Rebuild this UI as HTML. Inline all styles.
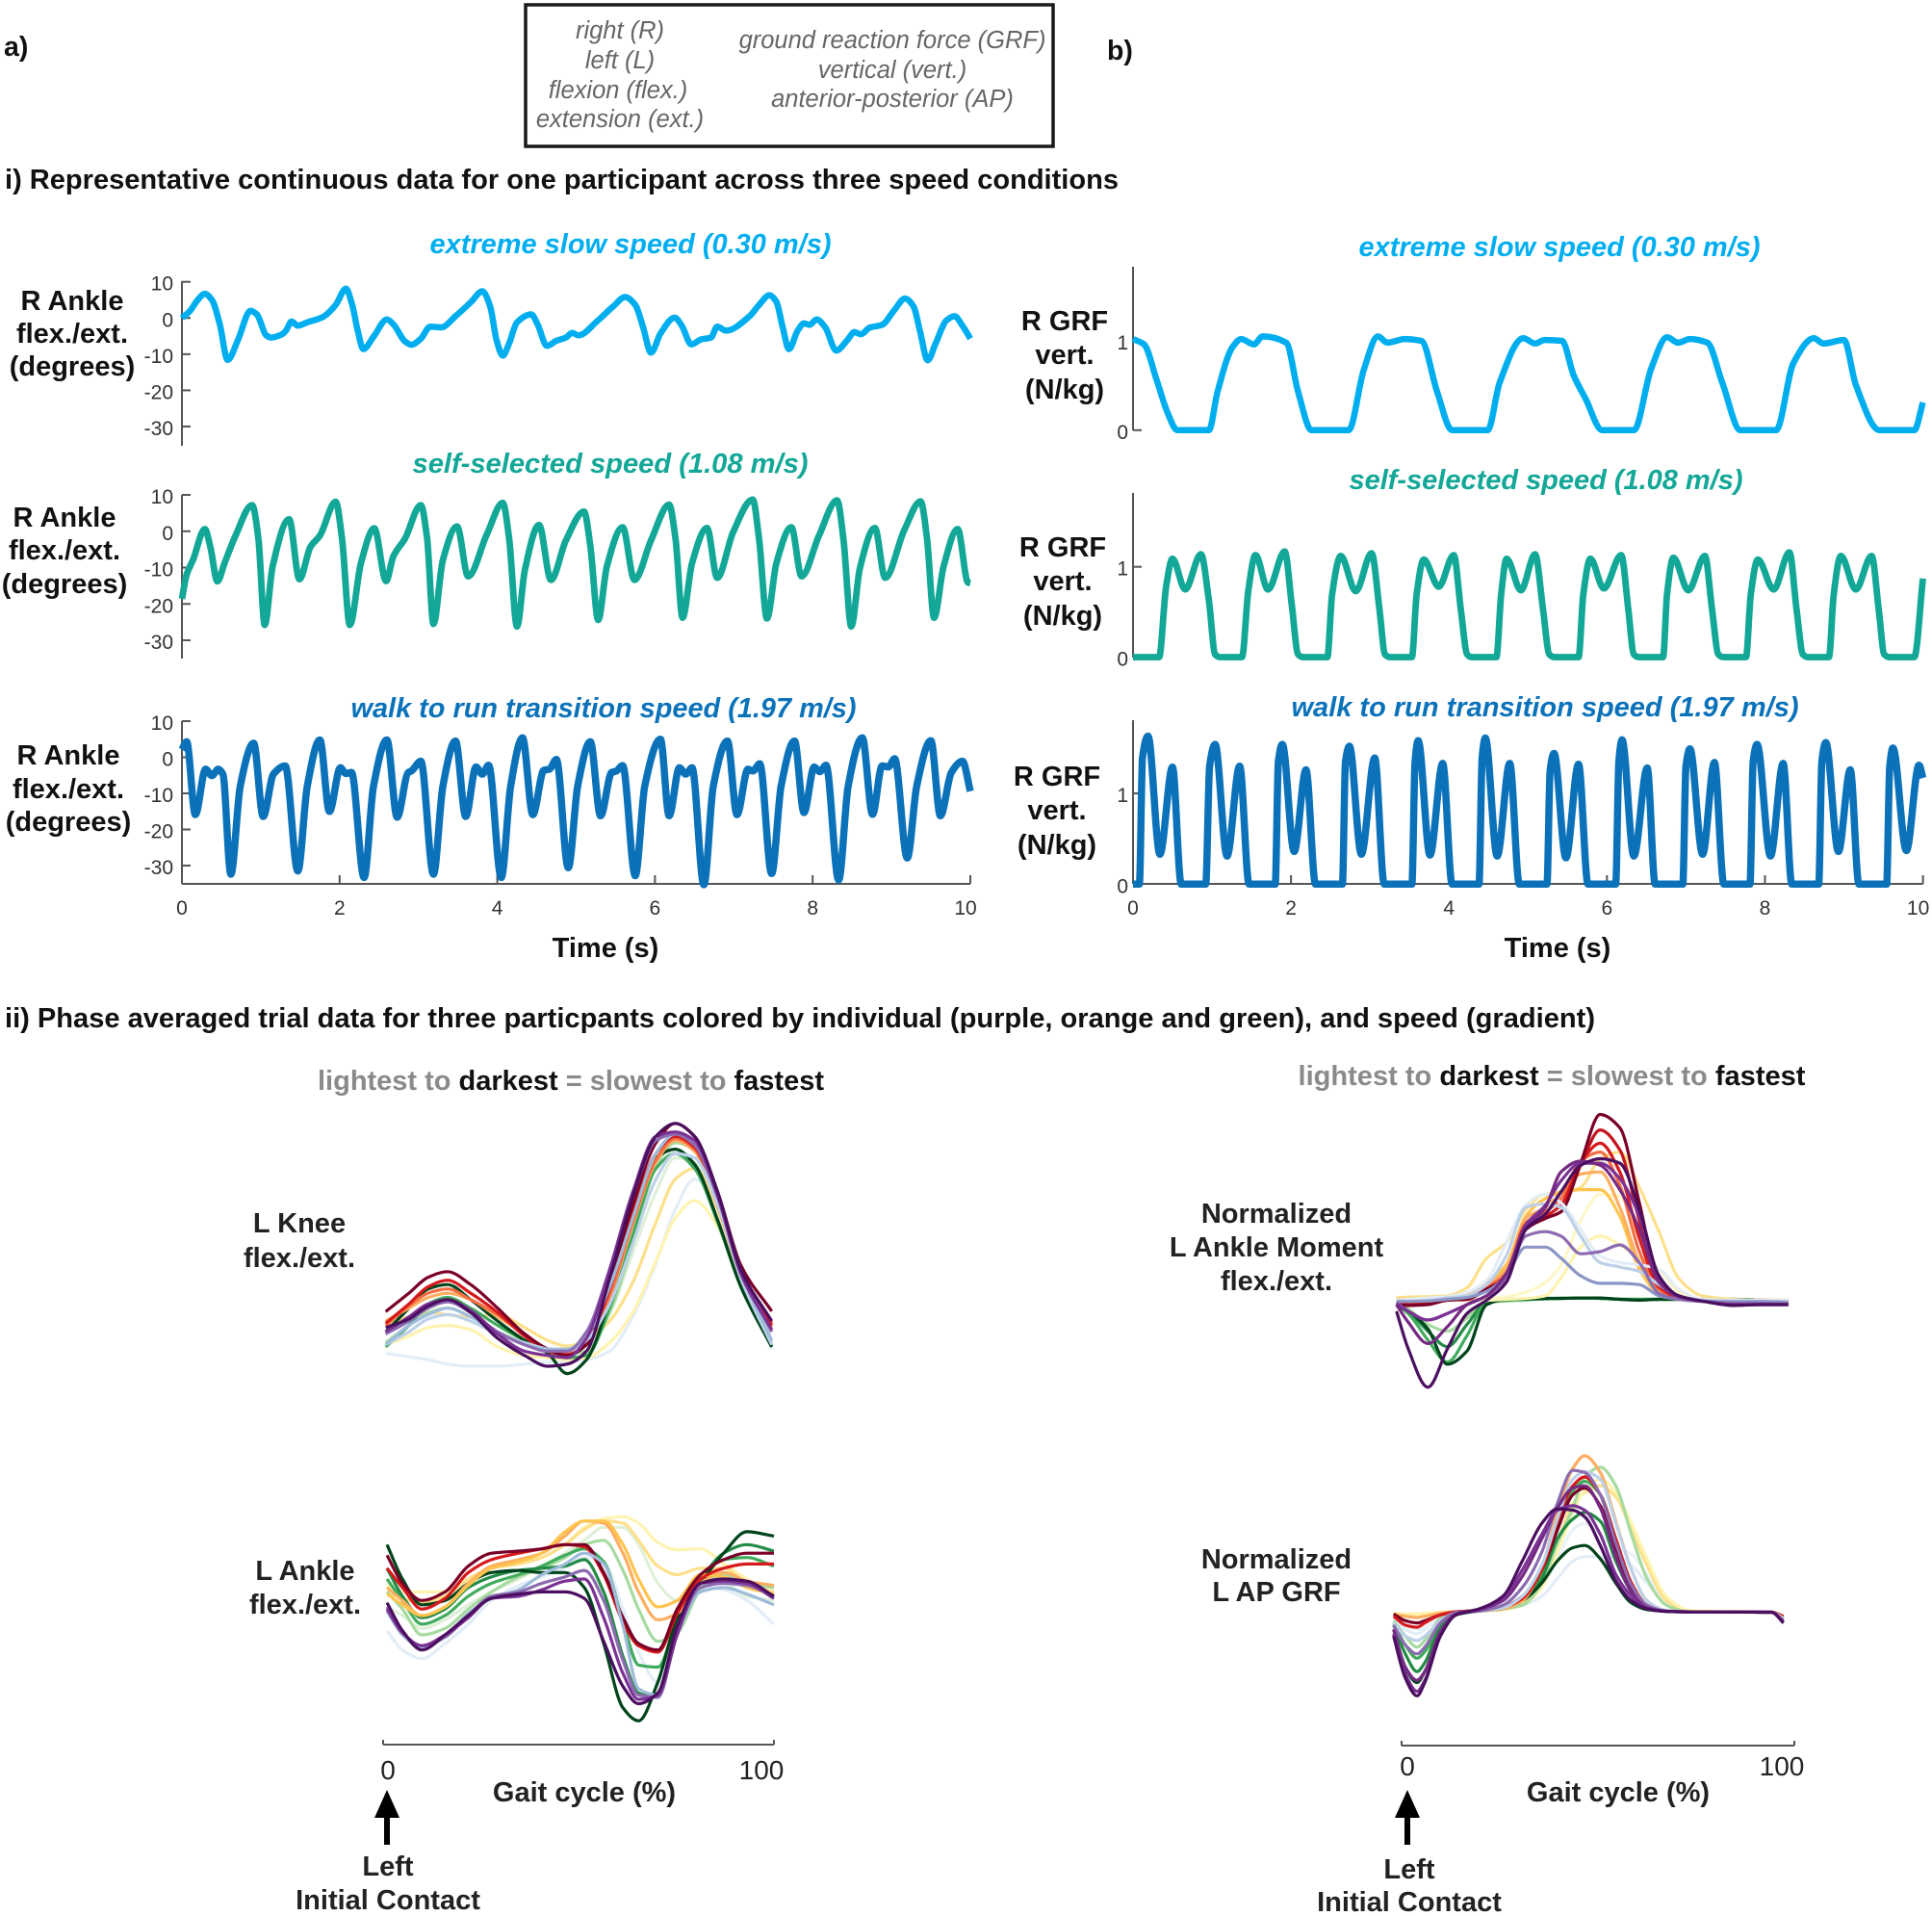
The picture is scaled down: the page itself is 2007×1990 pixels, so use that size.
<!DOCTYPE html>
<html lang="en">
<head>
<meta charset="utf-8">
<title>Gait data figure</title>
<style>
html,body{margin:0;padding:0;background:#fff;}
svg{display:block;font-family:"Liberation Sans",Arial,sans-serif;}
.lab{font-weight:bold;font-size:29px;fill:#111;text-anchor:middle;}
.lab2{font-weight:bold;font-size:29px;fill:#222;text-anchor:middle;}
.ttl{font-weight:bold;font-style:italic;font-size:29px;text-anchor:middle;}
.leg{font-style:italic;font-size:25.5px;fill:#666;text-anchor:middle;}
.head{font-weight:bold;font-size:28.5px;fill:#111;}
.tick{font-size:21px;fill:#333;}
.g{fill:#8a8a8a;}.k{fill:#111;}
</style>
</head>
<body>
<svg id="chart" xmlns="http://www.w3.org/2000/svg" width="2007" height="1990" viewBox="0 0 2007 1990">
<rect width="2007" height="1990" fill="#fff"/>
<text class="head" x="4" y="58">a)</text>
<text class="head" x="1150" y="62">b)</text>
<g>
<rect x="546" y="5" width="548" height="147" fill="#fff" stroke="#1a1a1a" stroke-width="3.5"/>
<text class="leg" x="644" y="40">right (R)</text>
<text class="leg" x="644" y="71">left (L)</text>
<text class="leg" x="642" y="102">flexion (flex.)</text>
<text class="leg" x="644" y="132">extension (ext.)</text>
<text class="leg" x="927" y="50">ground reaction force (GRF)</text>
<text class="leg" x="927" y="81">vertical (vert.)</text>
<text class="leg" x="927" y="111">anterior-posterior (AP)</text>
</g>
<text class="head" x="5" y="196" textLength="1157" lengthAdjust="spacingAndGlyphs">i) Representative continuous data for one participant across three speed conditions</text>
<text class="head" x="5" y="1067" textLength="1652" lengthAdjust="spacingAndGlyphs">ii) Phase averaged trial data for three particpants colored by individual (purple, orange and green), and speed (gradient)</text>

<text class="ttl" x="655" y="263" fill="#00aeef" textLength="417" lengthAdjust="spacingAndGlyphs">extreme slow speed (0.30 m/s)</text>
<text class="ttl" x="634" y="491" fill="#12a797" textLength="411" lengthAdjust="spacingAndGlyphs">self-selected speed (1.08 m/s)</text>
<text class="ttl" x="627" y="745" fill="#0b72ba" textLength="525" lengthAdjust="spacingAndGlyphs">walk to run transition speed (1.97 m/s)</text>
<text class="ttl" x="1620" y="266" fill="#00aeef" textLength="417" lengthAdjust="spacingAndGlyphs">extreme slow speed (0.30 m/s)</text>
<text class="ttl" x="1606" y="508" fill="#12a797" textLength="409" lengthAdjust="spacingAndGlyphs">self-selected speed (1.08 m/s)</text>
<text class="ttl" x="1605" y="744" fill="#0b72ba" textLength="527" lengthAdjust="spacingAndGlyphs">walk to run transition speed (1.97 m/s)</text>

<g><text class="lab" x="75" y="322">R Ankle</text><text class="lab" x="75" y="356">flex./ext.</text><text class="lab" x="75" y="390">(degrees)</text></g>
<g><text class="lab" x="67" y="547">R Ankle</text><text class="lab" x="67" y="581">flex./ext.</text><text class="lab" x="67" y="616">(degrees)</text></g>
<g><text class="lab" x="71" y="794">R Ankle</text><text class="lab" x="71" y="829">flex./ext.</text><text class="lab" x="71" y="863">(degrees)</text></g>
<g><text class="lab" x="1106" y="343">R GRF</text><text class="lab" x="1106" y="378">vert.</text><text class="lab" x="1106" y="414">(N/kg)</text></g>
<g><text class="lab" x="1104" y="578">R GRF</text><text class="lab" x="1104" y="613">vert.</text><text class="lab" x="1104" y="649">(N/kg)</text></g>
<g><text class="lab" x="1098" y="816">R GRF</text><text class="lab" x="1098" y="851">vert.</text><text class="lab" x="1098" y="887">(N/kg)</text></g>
<text class="lab" x="629" y="994">Time (s)</text>
<text class="lab" x="1618" y="994">Time (s)</text>

<text class="lab" x="593" y="1132" textLength="526" lengthAdjust="spacingAndGlyphs"><tspan class="g">lightest to </tspan><tspan class="k">darkest</tspan><tspan class="g"> = slowest to </tspan><tspan class="k">fastest</tspan></text>
<text class="lab" x="1612" y="1127" textLength="527" lengthAdjust="spacingAndGlyphs"><tspan class="g">lightest to </tspan><tspan class="k">darkest</tspan><tspan class="g"> = slowest to </tspan><tspan class="k">fastest</tspan></text>

<g><text class="lab2" x="311" y="1280">L Knee</text><text class="lab2" x="311" y="1316">flex./ext.</text></g>
<g><text class="lab2" x="317" y="1641">L Ankle</text><text class="lab2" x="317" y="1676">flex./ext.</text></g>
<g><text class="lab2" x="1326" y="1270">Normalized</text><text class="lab2" x="1326" y="1305">L Ankle Moment</text><text class="lab2" x="1326" y="1340">flex./ext.</text></g>
<g><text class="lab2" x="1326" y="1629">Normalized</text><text class="lab2" x="1326" y="1663">L AP GRF</text></g>

<text x="403" y="1848" font-size="28" fill="#222" text-anchor="middle">0</text>
<text x="791" y="1848" font-size="28" fill="#222" text-anchor="middle">100</text>
<text x="1462" y="1844" font-size="28" fill="#222" text-anchor="middle">0</text>
<text x="1851" y="1844" font-size="28" fill="#222" text-anchor="middle">100</text>
<text class="lab2" x="607" y="1871">Gait cycle (%)</text>
<text class="lab2" x="1681" y="1871">Gait cycle (%)</text>
<path d="M402 1859L415 1888H405V1916H399V1888H389Z" fill="#000"/>
<path d="M1462 1859L1475 1888H1465V1916H1459V1888H1449Z" fill="#000"/>
<g><text class="lab2" x="403" y="1948">Left</text><text class="lab2" x="403" y="1983">Initial Contact</text></g>
<g><text class="lab2" x="1464" y="1951">Left</text><text class="lab2" x="1464" y="1985">Initial Contact</text></g>
<g id="marks"></g>
</svg>
<script>
/* ---- continuous traces: seconds and degrees / N/kg ---- */
const ankleTicks=[10,0,-10,-20,-30];
const grfTicks=[0,1];
const timeTicks=[0,2,4,6,8,10];

const slowAnkleTime=[0,.1,.2,.29,.38,.48,.58,.71,.87,.95,1.07,1.13,1.27,1.32,1.39,1.47,1.59,1.79,1.95,2.08,2.16,2.23,2.3,2.43,2.6,2.68,2.83,2.91,3.03,3.15,3.29,3.47,3.67,3.81,3.91,3.99,4.07,4.15,4.25,4.43,4.51,4.63,4.75,4.87,4.95,5.03,5.27,5.47,5.62,5.75,5.85,5.95,6.07,6.25,6.34,6.46,6.59,6.71,6.79,6.9,7.2,7.32,7.45,7.54,7.62,7.7,7.81,7.89,7.96,8.05,8.16,8.3,8.44,8.53,8.61,8.72,8.88,9.04,9.17,9.28,9.36,9.46,9.56,9.7,9.8,9.9,10];
const slowAnkleDeg=[0,1.9,5,6.7,5,-1.7,-11.6,-6.1,2,1,-4.8,-5.4,-4.5,-3.5,-1,-2.1,-1.2,.3,3.6,8.1,3.6,-3.5,-8.6,-5.2,-.4,-1.7,-6.5,-7.4,-5.7,-2.4,-2.6,.5,4.5,7.4,3.2,-6.1,-10.4,-7,-1.2,1,-1.7,-7.7,-6.3,-5.4,-4.1,-4.8,-.8,3.2,5.8,3.6,-2.6,-9.6,-4.3,.1,-2.1,-7.3,-5.9,-5.4,-2.4,-3.5,.5,3.6,6.3,4.5,-2.6,-8.6,-3.5,-1.5,-1.9,-.4,-2.6,-9,-6.1,-3.9,-4.5,-2.7,-1.9,2.3,5.4,3.2,-3.5,-11.7,-7,-.6,.5,-2.1,-5.7];

const selfAnkleTime=[0,.06,.14,.29,.36,.45,.54,.68,.89,.97,1.05,1.15,1.36,1.49,1.63,1.75,1.95,2.03,2.13,2.27,2.44,2.59,2.68,2.83,3.03,3.11,3.19,3.31,3.49,3.63,3.87,4.07,4.15,4.25,4.35,4.53,4.68,4.87,5.1,5.18,5.28,5.39,5.59,5.74,5.95,6.18,6.26,6.35,6.47,6.66,6.79,6.99,7.24,7.32,7.42,7.54,7.73,7.86,8.08,8.31,8.39,8.49,8.6,8.79,8.92,9.16,9.37,9.45,9.54,9.66,9.84,9.97,10];
const selfAnkleDeg=[-18.6,-11.9,-7.9,.6,-4.3,-13.8,-8.8,-1.2,7.2,-2,-25.8,-9.7,3.3,-13.2,-4.3,-1.2,8.1,-2,-25.8,-8.8,.8,-13.7,-7,-2,7.2,-2,-25.5,-7.9,1.3,-12.4,-.7,7.8,-2,-26.2,-10.6,1.7,-13.4,-2.5,5.4,-4,-24.4,-9.7,1.1,-13.4,-2.5,7.3,-2,-23.8,-8.8,.9,-12.8,-.3,8.7,-2,-24,-8.8,1.1,-12.4,-1.2,8.5,-2,-26.2,-10.1,.9,-12.8,.2,8.2,-2,-23.8,-9.7,.6,-14.1,-14.3];

const walkAnkleTime=[0,.06,.17,.3,.38,.46,.52,.62,.74,.91,1.03,1.16,1.31,1.47,1.59,1.75,1.87,2.01,2.08,2.15,2.31,2.43,2.6,2.73,2.87,2.91,3.03,3.19,3.31,3.47,3.6,3.73,3.81,3.89,4.05,4.17,4.32,4.45,4.59,4.66,4.75,4.9,5.02,5.18,5.31,5.45,5.51,5.59,5.75,5.87,6.07,6.18,6.31,6.39,6.47,6.62,6.74,6.92,7.04,7.18,7.24,7.33,7.48,7.6,7.77,7.89,8.02,8.09,8.17,8.33,8.45,8.63,8.76,8.88,8.96,9.04,9.2,9.32,9.5,9.62,9.76,9.9,10];
const walkAnkleDeg=[2.1,4.3,-15.9,-3.3,-5.1,-3.3,-4.7,-32.4,-8,3.9,-16.4,-4.7,-2.4,-31.5,-8,4.8,-15,-2.9,-4.5,-4.2,-33.3,-8,4.8,-16.6,-4.2,-3.8,-1.1,-32.4,-8,4.5,-16.4,-2.7,-4.7,-2.2,-33.3,-8,5.4,-15.9,-3.6,-3.3,-.6,-30.6,-8,4.3,-16.2,-4.2,-3.8,-2.3,-32.8,-8,5,-16.2,-2.9,-4.7,-2.9,-35.3,-8,4.5,-15.9,-3.3,-3.8,-1.8,-32.2,-8,4.5,-15.3,-2.7,-4,-2.2,-34,-8,5.4,-15.8,-2.4,-2.7,-.4,-27.9,-8,4.6,-16.2,-4.2,-1.1,-9.4];

const slowGrfTime=[0,.14,.3,.44,.56,.96,1.07,1.26,1.37,1.53,1.64,1.94,2.09,2.26,2.73,2.92,3.1,3.22,3.44,3.65,3.85,4.04,4.49,4.64,4.94,5.09,5.21,5.43,5.58,5.73,5.94,6.34,6.56,6.76,6.9,7.05,7.27,7.46,7.69,8.14,8.36,8.62,8.74,9,9.15,9.45,9.89,10];
const slowGrfForce=[1.02,.96,.56,.19,0,0,.43,.93,1.02,.96,1.05,.98,.43,0,0,.67,1.05,.98,1.02,1,.43,0,0,.53,1.03,.97,1.01,1,.61,.35,0,0,.69,1.04,.98,1.02,.98,.53,0,0,.75,1.03,.97,1.01,.51,0,0,.31];

const selfGrfTime=[0,.33,.42,.5,.66,.86,.96,1.04,1.1,1.38,1.46,1.55,1.71,1.92,2.01,2.09,2.15,2.46,2.52,2.63,2.82,3.02,3.12,3.19,3.25,3.53,3.59,3.68,3.87,4.06,4.15,4.23,4.28,4.6,4.66,4.73,4.91,5.09,5.19,5.27,5.33,5.64,5.7,5.79,5.96,6.18,6.27,6.34,6.4,6.71,6.76,6.84,7.03,7.24,7.33,7.41,7.47,7.76,7.82,7.91,8.11,8.31,8.4,8.48,8.54,8.81,8.87,8.96,9.15,9.35,9.44,9.51,9.57,9.89,10];
const selfGrfForce=[0,0,.79,1.09,.75,1.14,.63,.03,0,0,.74,1.13,.75,1.17,.58,.03,0,0,.69,1.12,.73,1.15,.53,.03,0,0,.69,1.08,.78,1.13,.53,.03,0,0,.69,1.09,.74,1.14,.53,.03,0,0,.69,1.09,.76,1.13,.53,.03,0,0,.69,1.1,.74,1.12,.53,.03,0,0,.69,1.08,.75,1.16,.53,.03,0,0,.69,1.12,.75,1.12,.53,.03,0,0,.87];

const walkGrfTime=[0,.08,.12,.19,.34,.5,.61,.92,.97,1.04,1.19,1.35,1.47,1.8,1.84,1.89,2.04,2.19,2.31,2.65,2.69,2.74,2.89,3.06,3.18,3.53,3.57,3.61,3.76,3.92,4.04,4.38,4.42,4.46,4.61,4.77,4.89,5.24,5.28,5.33,5.48,5.64,5.76,6.11,6.15,6.19,6.34,6.51,6.61,6.96,7,7.05,7.21,7.36,7.48,7.81,7.85,7.9,8.07,8.23,8.34,8.68,8.72,8.77,8.93,9.08,9.19,9.54,9.58,9.62,9.79,9.95,10];
const walkGrfForce=[0,0,1.39,1.63,.33,1.29,0,0,1.3,1.54,.31,1.3,0,0,1.35,1.54,.36,1.26,0,0,1.35,1.52,.33,1.39,0,0,1.35,1.58,.32,1.33,0,0,1.4,1.61,.31,1.33,0,0,1.25,1.44,.29,1.32,0,0,1.35,1.59,.31,1.28,0,0,1.3,1.49,.33,1.34,0,0,1.35,1.54,.31,1.33,0,0,1.35,1.56,.36,1.26,0,0,1.3,1.5,.37,1.31,1.17];

/* ---- phase-averaged bundles: gait-cycle % and normalized amplitude ---- */
const kneeGaitPercent=[0,6,11,16,22,29,36,42,47,52,58,64,70,75,80,86,92,100];
const kneeSeriesNames=['paleBlue','paleGreen','yellowPale','yellow','lightGreen','green','darkGreen','orange','orangeRed','red','maroon','skyBlue','blue','lightPurple','purple','darkPurple'];
const kneeValues=[
[45,37,30,20,15,15,20,25,25,30,50,130,255,380,450,390,220,55],
[65,95,125,135,120,90,70,55,50,75,140,280,420,500,490,390,220,65],
[65,85,105,110,100,60,40,35,30,35,70,140,260,360,400,340,200,70],
[110,130,140,135,130,135,105,75,62,75,120,210,350,450,475,380,220,95],
[70,110,140,150,130,95,70,55,45,50,140,300,480,535,520,400,220,70],
[60,110,160,175,150,110,75,50,35,40,150,320,475,510,475,350,200,60],
[95,150,195,205,170,120,75,45,-2,30,170,350,500,520,485,355,200,60],
[120,150,175,185,170,130,90,55,45,70,175,345,490,540,515,385,225,105],
[110,155,185,195,170,135,90,55,45,65,180,350,495,545,520,395,235,115],
[115,160,200,215,185,140,85,50,42,70,195,370,510,550,525,400,240,110],
[142,185,222,235,205,150,90,55,40,65,210,390,535,580,550,420,250,143],
[65,95,125,135,120,90,70,55,50,75,160,300,450,510,500,390,220,65],
[65,110,135,150,130,95,65,55,55,85,200,360,510,555,530,405,235,75],
[90,120,150,165,140,95,65,50,50,95,240,410,540,555,530,410,240,95],
[95,130,160,170,145,90,50,40,35,80,240,420,550,560,540,410,230,100],
[105,125,155,170,140,80,40,15,20,50,220,410,550,580,550,420,240,120]];

const ankleGaitPercent=[0,4,9,15,21,27,34,40,46,51,56,61,65,70,75,81,87,93,100];
const ankleSeriesNames=['paleBlue','paleGreen','yellowPale','yellow','lightGreen','green','midGreen','darkGreen','orange','lightOrange','red','maroon','blue','lightPurple','purple','darkPurple'];
const ankleValues=[
[20,-25,-45,-10,35,90,125,145,165,190,180,70,-30,-100,50,120,115,90,35],
[75,55,25,45,80,110,140,170,200,230,260,260,220,130,90,125,130,100,90],
[125,110,110,110,140,165,175,190,220,260,280,285,270,225,208,210,175,140,100],
[110,95,85,100,140,165,175,190,220,255,275,270,230,170,150,165,165,130,110],
[110,70,10,25,70,110,145,165,190,220,230,160,70,-5,15,115,150,130,120],
[140,90,35,55,100,130,150,170,195,210,180,40,-60,-65,45,140,185,190,170],
[165,100,50,70,120,145,160,165,170,185,110,-40,-125,-135,20,135,200,220,205],
[220,140,80,90,130,155,160,155,155,120,-10,-160,-190,-100,50,130,200,250,240],
[120,90,55,75,130,170,185,200,240,275,270,200,110,45,60,130,155,135,125],
[105,80,55,75,125,165,180,200,250,275,275,220,140,75,90,150,145,120,105],
[165,120,70,95,155,185,200,210,220,215,150,40,-15,-30,60,140,165,175,175],
[195,130,90,110,170,200,205,210,220,220,155,50,-10,-25,70,150,185,200,200],
[65,10,-20,5,60,95,115,150,175,200,175,30,-115,-130,10,110,120,105,80],
[75,15,-15,5,55,100,110,130,145,160,90,-50,-130,-135,15,120,130,125,100],
[70,15,-15,10,50,95,100,115,135,140,50,-80,-140,-130,10,130,135,130,95],
[85,20,-25,10,55,95,105,110,110,95,-5,-110,-150,-125,30,130,140,135,100]];

const momentGaitPercent=[0,3,8,13,18,23,28,33,38,42,47,52,57,62,67,72,78,86,93,100];
const momentSeriesNames=['lightGreen','midGreen','green','darkGreen','yellowPale','paleYellow2','yellow','lightOrange','orange','orangeRed','red','crimson','maroon','paleBlue','skyBlue','periwinkle','lightPurple','purple','midPurple','darkPurple'];
const momentValues=[
[-5,-20,-55,-70,-40,-5,-2,0,3,4,5,4,2,2,2,2,2,2,0,-5],
[-8,-25,-70,-105,-55,-5,0,2,3,4,5,4,2,2,2,2,2,2,0,-8],
[-10,-30,-90,-140,-80,-5,0,2,3,4,5,4,2,2,2,2,2,2,0,-8],
[-12,-25,-65,-145,-115,-10,2,3,4,4,5,5,2,0,2,2,2,2,0,-8],
[0,0,0,0,0,0,2,4,10,50,120,145,125,95,70,20,2,0,0,0],
[2,2,2,2,2,3,8,18,40,80,180,240,235,140,40,10,2,0,0,0],
[5,7,8,10,28,95,130,205,240,242,255,320,335,255,155,50,10,2,0,0],
[2,2,5,8,15,40,80,190,230,245,250,250,190,70,15,2,0,0,0,0],
[-2,-5,-2,4,10,35,70,185,210,245,285,290,210,85,20,2,0,-2,0,-2],
[-5,-8,-5,2,6,30,60,175,200,230,315,335,260,110,25,5,0,-2,0,-3],
[-8,-10,-7,0,5,25,55,170,190,215,310,355,290,140,30,7,0,-2,0,-3],
[-10,-10,-8,0,2,25,50,160,185,200,305,385,340,180,35,8,-2,-3,-2,-5],
[-10,-12,-10,0,2,25,50,160,185,200,310,420,390,220,40,10,-2,-5,-2,-5],
[0,2,5,8,18,45,130,215,240,220,160,100,85,80,70,25,2,0,0,0],
[-2,-2,0,5,10,35,100,210,218,210,145,85,75,65,35,8,0,-2,-2,-3],
[-3,-3,-2,2,6,20,55,120,120,95,55,38,38,35,10,2,-2,-3,-3,-5],
[-5,-25,-45,-30,-10,10,50,145,155,145,105,110,125,85,15,2,-3,-7,-7,-8],
[-8,-25,-45,-30,-10,10,60,170,215,270,310,310,275,190,50,10,-2,-10,-10,-10],
[-10,-50,-98,-60,-10,10,60,160,210,290,315,305,250,160,40,8,-2,-10,-10,-10],
[-25,-110,-197,-110,-30,0,40,160,195,245,305,320,310,205,55,10,-2,-12,-10,-10]];

const apGaitPercent=[0,3,6,8,12,16,22,28,33,38,42,46,49,53,57,61,65,70,76,97,100];
const apSeriesNames=['paleBlue','paleBlue2','yellow','yellowPale','lightGreen','green','midGreen','darkGreen','orange','maroon','red','skyBlue','lightPurple','midPurple','purple','darkPurple'];
const apValues=[
[-20,-40,-50,-40,-10,-1,2,5,15,35,75,115,125,125,125,105,65,20,2,-1,-10],
[-15,-30,-40,-35,-10,-1,1,5,20,55,120,185,200,175,145,130,85,25,2,-1,-10],
[-3,-5,-5,-5,-1,0,2,5,17,65,155,245,270,285,260,185,105,25,2,-1,-10],
[-3,-5,-5,-3,-1,0,2,5,15,55,135,225,275,300,270,200,120,35,3,-1,-10],
[-20,-55,-80,-65,-15,-1,2,7,15,65,155,235,305,327,285,175,75,15,0,-1,-15],
[-25,-75,-105,-90,-30,-3,2,7,25,85,185,275,295,265,165,65,15,2,0,-1,-15],
[-30,-95,-135,-115,-35,-5,2,7,25,75,165,210,225,205,115,45,10,2,0,-1,-15],
[-40,-125,-160,-135,-50,-7,2,7,25,65,115,145,150,120,65,20,5,1,0,-1,-15],
[-5,-10,-13,-10,-3,0,2,7,25,100,225,325,353,315,205,95,25,3,0,-1,-10],
[-5,-20,-25,-20,-7,0,3,10,35,95,185,265,280,240,145,55,13,2,0,-1,-15],
[-10,-30,-35,-25,-7,0,3,10,30,95,205,285,305,265,165,65,15,2,0,-1,-10],
[-25,-55,-65,-55,-20,-2,2,9,35,105,210,300,317,300,200,95,25,3,0,-1,-15],
[-30,-75,-95,-80,-25,-2,2,15,55,135,245,320,315,265,155,60,15,2,0,-1,-20],
[-40,-125,-155,-135,-45,-5,5,25,80,165,235,280,285,235,125,45,10,1,0,-1,-23],
[-50,-140,-180,-155,-55,-7,5,30,95,175,230,240,230,175,85,35,7,1,0,-1,-25],
[-55,-150,-190,-160,-55,-7,7,35,115,200,233,230,215,150,70,25,7,1,0,-1,-25]];

/* ---- styling (separate from data) ---- */
const shade={paleBlue:'#e3edf7',paleBlue2:'#eaf2f8',paleGreen:'#dff0d8',yellowPale:'#fff3b0',paleYellow2:'#fff7c8',yellow:'#fee08b',
lightGreen:'#a6dba0',green:'#41ab5d',midGreen:'#238b45',darkGreen:'#00441b',lightOrange:'#fec44f',orange:'#fdae61',orangeRed:'#f46d43',
red:'#d7191c',crimson:'#c4141c',maroon:'#7a0026',skyBlue:'#bcd0e8',blue:'#9ebcda',periwinkle:'#8c96c6',lightPurple:'#8c6bb1',purple:'#7b3294',midPurple:'#762a83',darkPurple:'#4a0f5f'};
const SLOW='#00aeef',SELF='#12a797',WALK='#0b72ba',AXIS='#555';

const NS='http://www.w3.org/2000/svg';
const marks=document.getElementById('marks');
function linear(d0,d1,r0,r1){return v=>r0+(v-d0)*(r1-r0)/(d1-d0);}
function monotonePath(xs,ys){
  const n=xs.length,dx=[],m=[],t=[];
  for(let i=0;i<n-1;i++){dx[i]=xs[i+1]-xs[i];m[i]=(ys[i+1]-ys[i])/dx[i];}
  t[0]=m[0];t[n-1]=m[n-2];
  for(let i=1;i<n-1;i++){
    if(m[i-1]*m[i]<=0){t[i]=0;}
    else{const w1=2*dx[i]+dx[i-1],w2=dx[i]+2*dx[i-1];t[i]=(w1+w2)/(w1/m[i-1]+w2/m[i]);}
  }
  let d='M'+xs[0].toFixed(1)+' '+ys[0].toFixed(1);
  for(let i=0;i<n-1;i++){
    const h=dx[i]/3;
    d+='C'+(xs[i]+h).toFixed(1)+' '+(ys[i]+t[i]*h).toFixed(1)+' '+(xs[i+1]-h).toFixed(1)+' '+(ys[i+1]-t[i+1]*h).toFixed(1)+' '+xs[i+1].toFixed(1)+' '+ys[i+1].toFixed(1);
  }
  return d;
}
function drawSeries(name,xArr,yArr,xf,yf,color,width){
  const p=document.createElementNS(NS,'path');
  
  
  p.setAttribute('d',monotonePath(xArr.map(xf),yArr.map(yf)));
  p.setAttribute('fill','none');
  p.setAttribute('stroke',color);
  p.setAttribute('stroke-width',width);
  p.setAttribute('stroke-linejoin','round');
  marks.appendChild(p);
}
function drawLine(name,x1,y1,x2,y2,w){
  const l=document.createElementNS(NS,'line');
  
  
  l.setAttribute('x1',x1);l.setAttribute('y1',y1);l.setAttribute('x2',x2);l.setAttribute('y2',y2);
  l.setAttribute('stroke',AXIS);l.setAttribute('stroke-width',w||2);
  marks.appendChild(l);
}
function drawLabel(name,x,y,txt,anchor){
  const t=document.createElementNS(NS,'text');
  
  
  t.setAttribute('class','tick');
  t.setAttribute('x',x);t.setAttribute('y',y);t.setAttribute('text-anchor',anchor);
  t.textContent=txt;
  marks.appendChild(t);
}
function yAxis(prefix,ticks,xf0,top,bottom,yf,labelX){
  drawLine(prefix+'-y-axis',xf0,top,xf0,bottom);
  ticks.forEach(v=>{
    drawLine(prefix+'-y-tick',xf0,yf(v),xf0+9,yf(v));
    drawLabel(prefix+'-y-tick-label',labelX,yf(v)+9,String(v),'end');
  });
}
function xAxis(prefix,ticks,xf,y){
  drawLine(prefix+'-x-axis',xf(0),y,xf(10),y);
  ticks.forEach((v,i)=>{
    drawLine(prefix+'-x-tick',xf(v),y-9,xf(v),y);
    drawLabel(prefix+'-x-tick-label',xf(v)-(i===ticks.length-1?5:0),y+32,String(v),'middle');
  });
}

/* left column: ankle */
const xAnkle=linear(0,10,189,1008);
const yAnkleSlow=linear(10,-30,292.7,443);
const yAnkleSelf=linear(10,-30,514,665);
const yAnkleWalk=linear(10,-30,749,899);
yAxis('ankle-slow',ankleTicks,189,292,463,yAnkleSlow,180);
yAxis('ankle-self-selected',ankleTicks,189,514,684,yAnkleSelf,180);
yAxis('ankle-walk-run',ankleTicks,189,749,918,yAnkleWalk,180);
xAxis('ankle',timeTicks,xAnkle,918);
drawSeries('ankle-slow-line',slowAnkleTime,slowAnkleDeg,xAnkle,yAnkleSlow,SLOW,6.5);
drawSeries('ankle-self-selected-line',selfAnkleTime,selfAnkleDeg,xAnkle,yAnkleSelf,SELF,6.8);
drawSeries('ankle-walk-run-line',walkAnkleTime,walkAnkleDeg,xAnkle,yAnkleWalk,WALK,7.5);

/* right column: vertical GRF */
const xGrf=linear(0,10,1177,1997.6);
const yGrfSlow=linear(0,1,446.8,354);
const yGrfSelf=linear(0,1,682.5,588.7);
const yGrfWalk=linear(0,1,918.3,824);
yAxis('grf-slow',grfTicks,1177,277,447,yGrfSlow,1172);
yAxis('grf-self-selected',grfTicks,1177,512,683,yGrfSelf,1172);
yAxis('grf-walk-run',grfTicks,1177,748,918,yGrfWalk,1172);
xAxis('grf',timeTicks,xGrf,918);
drawSeries('grf-slow-line',slowGrfTime,slowGrfForce,xGrf,yGrfSlow,SLOW,6.5);
drawSeries('grf-self-selected-line',selfGrfTime,selfGrfForce,xGrf,yGrfSelf,SELF,6.8);
drawSeries('grf-walk-run-line',walkGrfTime,walkGrfForce,xGrf,yGrfWalk,WALK,7.5);

/* phase-averaged bundles */
function bundle(prefix,pct,names,values,xf,yf){
  values.forEach((vals,i)=>{
    drawSeries(prefix+'-'+names[i],pct,vals,xf,yf,shade[names[i]],3.2);
  });
}
bundle('knee',kneeGaitPercent,kneeSeriesNames,kneeValues,linear(0,100,400.7,801.7),linear(0,100,1140+640/2.24,1140+540/2.24));
bundle('ankle-phase',ankleGaitPercent,ankleSeriesNames,ankleValues,linear(0,100,402,804),linear(0,100,1140+1260/2.24,1140+1160/2.24));
bundle('moment',momentGaitPercent,momentSeriesNames,momentValues,linear(0,100,1450.7,1857.7),linear(0,100,1130+480/2.178,1130+380/2.178));
bundle('ap-grf',apGaitPercent,apSeriesNames,apValues,linear(0,100,1447.7,1852.7),linear(0,100,1130+1185/2.178,1130+1085/2.178));

/* gait-cycle axes */
drawLine('gait-left-axis',398,1812,804,1812);
drawLine('gait-left-axis-tick-start',398,1807,398,1812);
drawLine('gait-left-axis-tick-end',804,1807,804,1812);
drawLine('gait-right-axis',1456,1813,1864,1813);
drawLine('gait-right-axis-tick-start',1456,1808,1456,1813);
drawLine('gait-right-axis-tick-end',1864,1808,1864,1813);
</script>
</body>
</html>
